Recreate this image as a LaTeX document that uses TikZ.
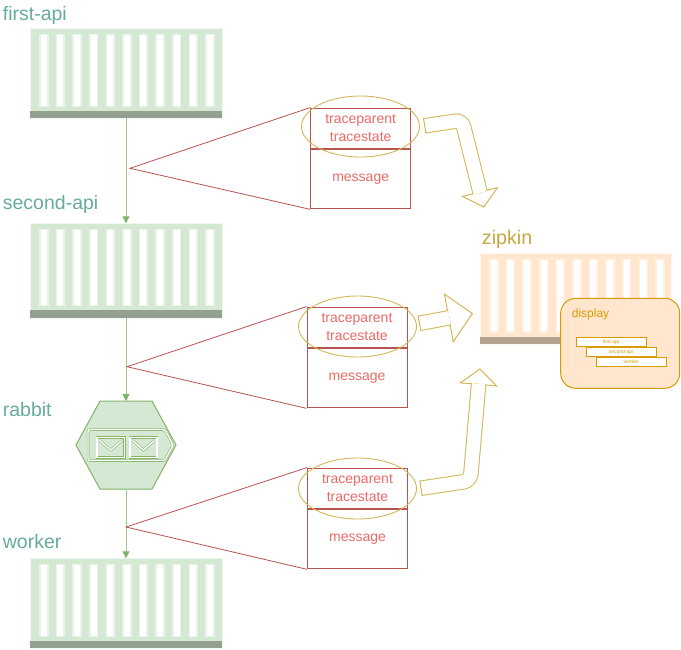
\documentclass[tikz,border=0pt]{standalone}
\usepackage{fontspec}
\setmainfont{Liberation Sans}
\usetikzlibrary{arrows.meta,shapes.geometric,calc}
\definecolor{gfill}{HTML}{D5E8D4}
\definecolor{gline}{HTML}{82B366}
\definecolor{gbar}{RGB}{148,160,144}
\definecolor{labteal}{HTML}{67AB9F}
\definecolor{rline}{HTML}{B85450}
\definecolor{rtext}{HTML}{EA6B66}
\definecolor{yline}{HTML}{D6B656}
\definecolor{zfill}{HTML}{FFE6CC}
\definecolor{zbar}{RGB}{181,162,143}
\definecolor{oline}{HTML}{D79B00}
\definecolor{ztext}{HTML}{C8A640}
\newcommand{\dockbox}[8]{%
  \node[draw=#6!35!white, fill=#6, minimum width=#4pt, minimum height=#5pt, anchor=north west, inner sep=0pt, outer sep=0pt, line width=0.8pt] (#1) at (#2,#3) {};
  \fill[#7] (#2,#3+#5-#8) rectangle (#2+#4,#3+#5);
  \foreach \i in {0,...,10}{
    \fill[white,opacity=0.5] (#2+9.1+16.6*\i,#3+5.5) rectangle ++(9.5,#5-#8-9.5);
    \fill[white] (#2+10.8+16.6*\i,#3+6.7) rectangle ++(6,#5-#8-12);
  }
}
\begin{document}
\begin{tikzpicture}[x=1pt,y=-1pt,
  lbl/.style={anchor=base west, inner sep=0pt, text=labteal, font=\fontsize{19.5}{23}\selectfont},
  garrow/.style={draw=gline!75!white, line width=1pt, -{Triangle[width=7pt,length=7pt,color=gline]}},
  rl/.style={draw=rline, line width=0.8pt},
  hdrbox/.style={draw=rline, line width=0.9pt, minimum width=100pt, minimum height=40.5pt, inner sep=0pt, align=center, text=rtext, font=\fontsize{14}{17.7}\selectfont},
  msgbox/.style={draw=rline, line width=0.9pt, minimum width=100pt, minimum height=59.5pt, inner sep=0pt, text=rtext, font=\fontsize{14}{17}\selectfont},
  ell/.style={ellipse, draw=yline, line width=0.9pt, minimum width=118pt, minimum height=61pt, inner sep=0pt},
  yarr/.style={draw=yline, line width=1pt, double=white, double distance=13.5pt, rounded corners=7pt},
  yhead/.style={draw=yline, fill=white, line width=1pt, line join=miter},
  ytail/.style={draw=yline, line width=1pt},
  sbox/.style={draw=oline, fill=white, line width=0.8pt, minimum width=70pt, minimum height=9.4pt, inner sep=0pt, text=oline, font=\fontsize{5}{6}\selectfont},
  icon/.style={draw=gline, line width=0.55pt, double=white, double distance=1.4pt}
]
\useasboundingbox (0,0) rectangle (681,649);
\fill[white] (0,0) rectangle (681,649);

% ---------- green services ----------
\node[lbl] (lfirst) at (2.7,20.7) {first-api};
\node[lbl] (lsecond) at (2.7,209) {second-api};
\node[lbl] (lrabbit) at (2.7,416.7) {rabbit};
\node[lbl] (lworker) at (2.7,548.3) {worker};

\dockbox{first}{30}{28.3}{192}{90}{gfill}{gbar}{7.3}
\dockbox{second}{30}{223.3}{192}{95}{gfill}{gbar}{8.3}
\dockbox{worker}{30}{558.3}{192}{90}{gfill}{gbar}{7.3}

% rabbit hexagon
\draw[draw=gline, fill=gfill, line width=1pt] (76,445) -- (100,401) -- (152,401) -- (176,445) -- (152,489) -- (100,489) -- cycle;
\node[minimum width=100pt, minimum height=88pt, inner sep=0pt, outer sep=0pt] (rabbit) at (126,445) {};
\draw[icon, rounded corners=2pt] (88,429.5) -- (165,429.5) -- (173,445) -- (165,460.5) -- (88,460.5) -- cycle;
\draw[icon] (97,437.5) rectangle (124.5,457.5);
\draw[icon] (99.5,440.5) -- (110.75,450) -- (122,440.5);
\draw[icon] (130,437.5) rectangle (157,457.5);
\draw[icon] (132.5,440.5) -- (143.5,450) -- (154.5,440.5);

% green connectors
\draw[garrow] (first.south) -- (second.north);
\draw[garrow] (second.south) -- (rabbit.north);
\draw[garrow] (rabbit.south) -- (worker.north);

% ---------- message callouts ----------
\coordinate (p1) at (130,168.3);
\coordinate (p2) at (127,366.7);
\coordinate (p3) at (126,527);

\node[hdrbox] (h1) at (360.7,128.25) {traceparent\\tracestate};
\node[msgbox, anchor=north] (m1) at (h1.south) {message};
\node[hdrbox] (h2) at (357,327.25) {traceparent\\tracestate};
\node[msgbox, anchor=north] (m2) at (h2.south) {message};
\node[hdrbox] (h3) at (357.5,488.25) {traceparent\\tracestate};
\node[msgbox, anchor=north] (m3) at (h3.south) {message};

\draw[rl] (h1.north west) -- (p1) -- (m1.south west);
\draw[rl] (h2.north west) -- (p2) -- (m2.south west);
\draw[rl] (h3.north west) -- (p3) -- (m3.south west);

\node[ell] (e1) at (360.5,126.5) {};
\node[ell] (e2) at (357.5,326.5) {};
\node[ell] (e3) at (357.5,488.5) {};

% ---------- zipkin ----------
\node[anchor=base west, inner sep=0pt, text=ztext, font=\fontsize{19.7}{23}\selectfont] (lzip) at (481.7,244) {zipkin};
\dockbox{zip}{480}{253.3}{191.7}{90.7}{zfill}{zbar}{7.3}
\node[draw=oline, fill=zfill, rounded corners=15pt, minimum width=119pt, minimum height=90pt, anchor=north west, inner sep=0pt, outer sep=0pt, line width=1pt] (disp) at (560.7,298.3) {};
\node[anchor=base west, inner sep=0pt, text=oline, font=\fontsize{12}{14}\selectfont] (ldisp) at (571.7,317.7) {display};
\node[sbox] (s1) at (611,342) {first-api};
\node[sbox] (s2) at (621,352) {second-api};
\node[sbox] (s3) at (631,362) {worker};

% ---------- yellow flex arrows ----------
% arrow 1
\coordinate (a1t) at (424.7,125.8);
\coordinate (a1c) at (462,120.2);
\coordinate (a1m) at (480,192);
\draw[yhead] ($(a1m)!18pt!90:(a1c)$) -- ($(a1m)!-15.5pt!(a1c)$) -- ($(a1m)!18pt!-90:(a1c)$) -- cycle;
\draw[yarr] (a1t) -- (a1c) -- ($(a1m)!-0.7pt!(a1c)$);
\draw[ytail] ($(a1t)!7.75pt!90:(a1c)$) -- ($(a1t)!7.75pt!-90:(a1c)$);
% arrow 2
\coordinate (a2t) at (419.5,323.3);
\coordinate (a2m) at (448.8,317.9);
\draw[yhead] ($(a2m)!24.2pt!90:(a2t)$) -- ($(a2m)!-24pt!(a2t)$) -- ($(a2m)!24.2pt!-90:(a2t)$) -- cycle;
\draw[yarr] (a2t) -- ($(a2m)!-0.7pt!(a2t)$);
\draw[ytail] ($(a2t)!7.75pt!90:(a2m)$) -- ($(a2t)!7.75pt!-90:(a2m)$);
% arrow 3
\coordinate (a3t) at (421,488.2);
\coordinate (a3c) at (470.3,480.8);
\coordinate (a3m) at (478.6,384.4);
\draw[yhead] ($(a3m)!18.2pt!90:(a3c)$) -- ($(a3m)!-15.5pt!(a3c)$) -- ($(a3m)!18.2pt!-90:(a3c)$) -- cycle;
\draw[yarr] (a3t) -- (a3c) -- ($(a3m)!-0.7pt!(a3c)$);
\draw[ytail] ($(a3t)!7.75pt!90:(a3c)$) -- ($(a3t)!7.75pt!-90:(a3c)$);
\end{tikzpicture}
\end{document}
